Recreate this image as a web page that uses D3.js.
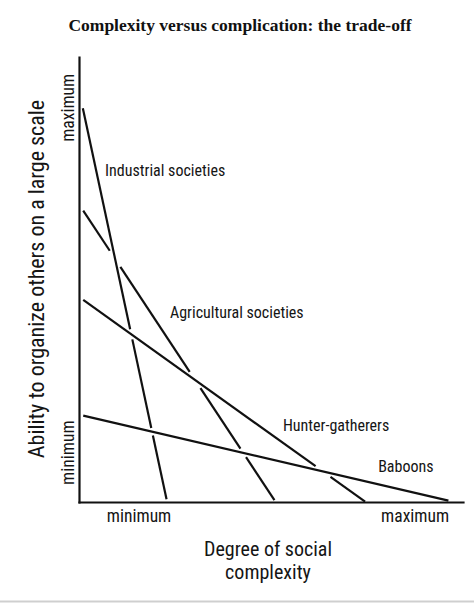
<!DOCTYPE html>
<html lang="en">
<head>
    <meta charset="UTF-8">
    <title>Complexity versus complication: the trade-off</title>

    <!-- D3.js -->
    <script src="https://d3js.org/d3.v7.min.js"></script>

    <style type="text/css">
        body { margin: 0; background: #fff; }
        .narrow {
            font-family: "Liberation Sans Narrow", "Arial Narrow", "Roboto Condensed", sans-serif;
            fill: #151515;
        }
        .title {
            font-family: "Liberation Serif", "Times New Roman", serif;
            font-weight: bold;
            font-size: 17.5px;
            fill: #111;
        }
    </style>
</head>
<body>

<div id="svgDiv" style="width:474px;height:603px"></div>

<script type="text/javascript">

    // one trade-off line per group (both axes run 0 = minimum .. 100 = maximum)
    var societies = ["Industrial societies", "Agricultural societies", "Hunter-gatherers", "Baboons"];
    var startComplexity = [1.0, 1.1, 1.1, 1.1];
    var startAbility = [88.5, 65.5, 45.4, 19.4];
    var endComplexity = [22.8, 50.9, 74.5, 96.2];
    var endAbility = [0.6, 0.4, 0.1, 0.3];

    // where each group name sits (same 0..100 units)
    var labelComplexity = [6.8, 23.7, 53.1, 77.9];
    var labelAbility = [73.3, 41.3, 16.0, 6.7];

    // lines earlier in this list pass over the later ones (the later ones get broken)
    var overlapOrder = ["Baboons", "Hunter-gatherers", "Industrial societies", "Agricultural societies"];

    // axis ends
    var tickLabels = ["minimum", "maximum"];
    var xTickValues = [15.5, 87.4];
    var yTickValues = [11.2, 88.7];

    var svg, x, y, svgWidth = 474, svgHeight = 603;
    var clearance = 3.5; // half width of the break where one line passes under another

    document.addEventListener('DOMContentLoaded', function(){

        svg = d3.select("#svgDiv")
            .append("svg")
            .attr("width", svgWidth)
            .attr("height", svgHeight);

        x = d3.scaleLinear().domain([0, 100]).range([79, 463]);
        y = d3.scaleLinear().domain([0, 100]).range([502, 57]);

        drawTexts();
        drawAxes();
        drawLines();
    });

    function drawTexts(){

        svg.append("text")
            .attr("class", "title")
            .attr("x", 240)
            .attr("y", 31)
            .attr("text-anchor", "middle")
            .text("Complexity versus complication: the trade-off");

        //y axis title
        svg.append("text")
            .attr("class", "narrow")
            .attr("transform", "translate(44,279) rotate(-90)")
            .attr("text-anchor", "middle")
            .style("font-size", "22px")
            .text("Ability to organize others on a large scale");

        //x axis title, two lines
        var xt = svg.append("text")
            .attr("class", "narrow")
            .attr("text-anchor", "middle")
            .style("font-size", "20px");
        xt.append("tspan").attr("x", 268).attr("y", 556).text("Degree of social");
        xt.append("tspan").attr("x", 268).attr("y", 579).text("complexity");

        //group names
        svg.selectAll(".groupLabel")
            .data(societies)
            .enter().append("text")
            .attr("class", "narrow groupLabel")
            .attr("x", function(d, i){ return x(labelComplexity[i]); })
            .attr("y", function(d, i){ return y(labelAbility[i]); })
            .style("font-size", "16px")
            .text(function(d){ return d; });

        //thin grey frame line at the bottom of the figure
        svg.append("line")
            .attr("x1", 0).attr("x2", svgWidth)
            .attr("y1", 601.5).attr("y2", 601.5)
            .attr("stroke", "#cfcfcf")
            .attr("stroke-width", 2);
    }

    function drawAxes(){

        var xAxis = d3.axisBottom(x)
            .tickValues(xTickValues)
            .tickFormat(function(d, i){ return tickLabels[i]; })
            .tickSize(0);

        var yAxis = d3.axisLeft(y)
            .tickValues(yTickValues)
            .tickFormat(function(d, i){ return tickLabels[i]; })
            .tickSize(0);

        var gx = svg.append("g")
            .attr("transform", "translate(0," + y(0) + ")")
            .call(xAxis);

        var gy = svg.append("g")
            .attr("transform", "translate(" + x(0) + ",0)")
            .call(yAxis);

        [gx, gy].forEach(function(g){
            g.attr("font-family", null).attr("font-size", null);
            g.select(".domain")
                .attr("stroke", "#111")
                .attr("stroke-width", 2.2)
                .attr("stroke-linecap", "square");
            g.selectAll("text")
                .attr("class", "narrow")
                .style("font-size", "17.5px");
        });

        gx.selectAll("text")
            .attr("y", 20)
            .attr("dy", null);

        gy.selectAll("text")
            .attr("x", null)
            .attr("dy", null)
            .attr("text-anchor", "middle")
            .attr("transform", "translate(-5,0) rotate(-90)");
    }

    //where line a meets line b: position along a and the half length of the break
    function crossing(a, b){
        var r = [a[1][0] - a[0][0], a[1][1] - a[0][1]];
        var s = [b[1][0] - b[0][0], b[1][1] - b[0][1]];
        var den = r[0] * s[1] - r[1] * s[0];
        if(den === 0) return null;
        var qp = [b[0][0] - a[0][0], b[0][1] - a[0][1]];
        var t = (qp[0] * s[1] - qp[1] * s[0]) / den;
        var u = (qp[0] * r[1] - qp[1] * r[0]) / den;
        if(t < 0 || t > 1 || u < 0 || u > 1) return null;
        var lenA = Math.hypot(r[0], r[1]);
        var sin = Math.abs(den) / (lenA * Math.hypot(s[0], s[1]));
        return {t: t, half: clearance / sin / lenA};
    }

    function pixelEnds(i){
        return [[x(startComplexity[i]), y(startAbility[i])],
                [x(endComplexity[i]), y(endAbility[i])]];
    }

    function drawLines(){

        var line = d3.line()
            .x(function(d){ return x(d[0]); })
            .y(function(d){ return y(d[1]); });

        var pieces = [];

        societies.forEach(function(name, i){
            var rank = overlapOrder.indexOf(name);
            var gaps = [];
            overlapOrder.slice(0, rank).forEach(function(other){
                var c = crossing(pixelEnds(i), pixelEnds(societies.indexOf(other)));
                if(c) gaps.push(c);
            });
            gaps.sort(function(a, b){ return a.t - b.t; });

            var ix = d3.interpolateNumber(startComplexity[i], endComplexity[i]);
            var iy = d3.interpolateNumber(startAbility[i], endAbility[i]);
            var t0 = 0;
            gaps.forEach(function(g){
                pieces.push([[ix(t0), iy(t0)], [ix(g.t - g.half), iy(g.t - g.half)]]);
                t0 = g.t + g.half;
            });
            pieces.push([[ix(t0), iy(t0)], [ix(1), iy(1)]]);
        });

        svg.selectAll(".tradeoff")
            .data(pieces)
            .enter().append("path")
            .attr("class", "tradeoff")
            .attr("d", line)
            .attr("fill", "none")
            .attr("stroke", "#111")
            .attr("stroke-width", 2.2);
    }

</script>

</body>
</html>
